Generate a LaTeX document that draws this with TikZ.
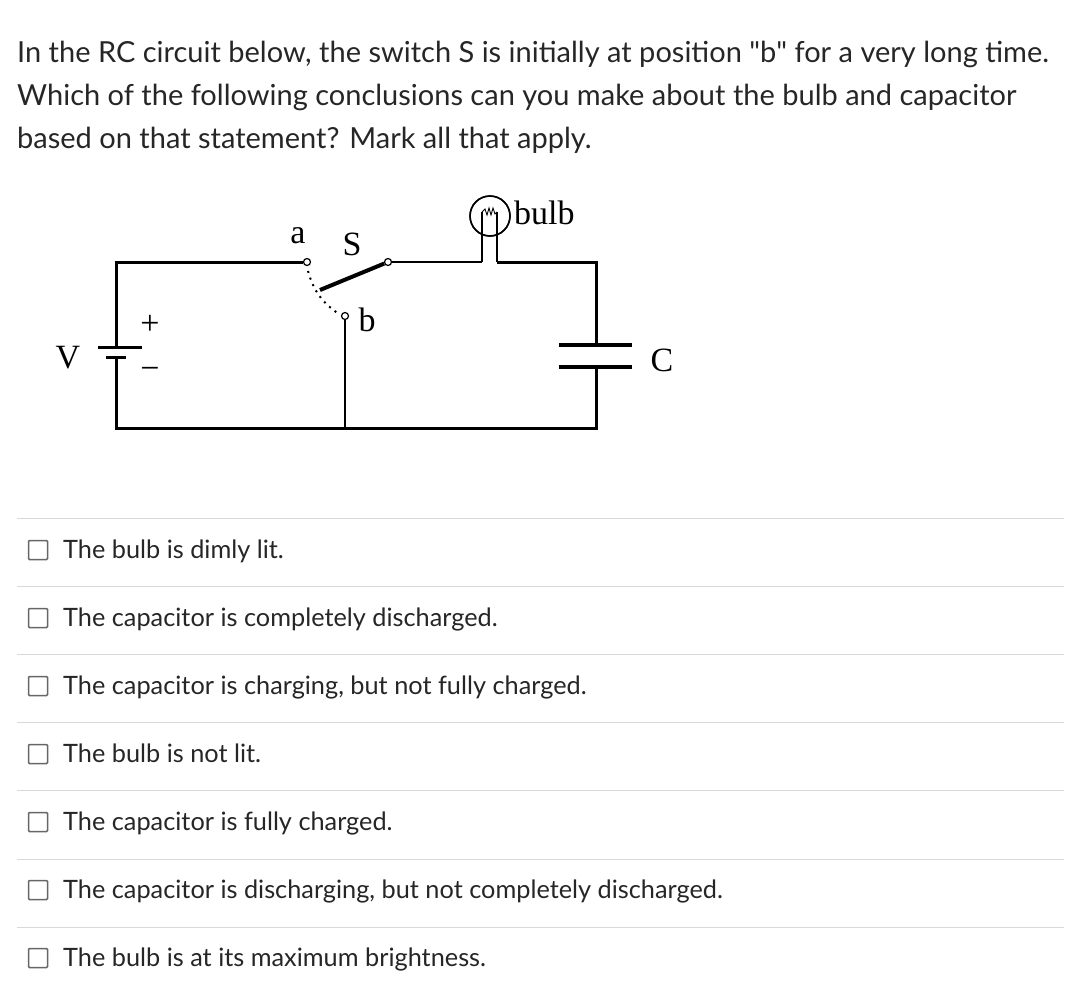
\documentclass[tikz,border=0pt]{standalone}
\usepackage{fontspec}
\setmainfont{Lato}
\newfontfamily\qf{Lato}
\newfontfamily\cfont{Liberation Serif}
\begin{document}
\begin{tikzpicture}[x=1pt,y=-1pt,
  wire/.style={line width=3pt},
  term/.style={circle,draw,fill=white,inner sep=0pt,minimum size=7pt,line width=1.2pt},
  ctext/.style={font=\cfont\fontsize{34}{36}\selectfont,inner sep=0pt},
  qtext/.style={anchor=base west,inner sep=0pt,font=\fontsize{29}{32}\selectfont,text=black!85},
  otext/.style={anchor=base west,inner sep=0pt,font=\fontsize{25.3}{28}\selectfont,text=black!85},
  cbox/.style={draw=black!60,line width=1.5pt,rounded corners=1pt,minimum size=19pt,inner sep=0pt},
  sep/.style={draw=black!15,line width=0.8pt}]
\useasboundingbox (0,0) rectangle (1082,996);
% question
\node[qtext] (q1) at (17,62) {In the RC circuit below, the switch S is initially at position {\qf\symbol{34}}b{\qf\symbol{34}} for a very long time.};
\node[qtext] (q2) at (17,105) {Which of the following conclusions can you make about the bulb and capacitor};
\node[qtext] (q3) at (17,148) {based on that statement? Mark all that apply.};
% circuit coordinates
\coordinate (tl) at (116,262);
\coordinate (bl) at (116,428);
\coordinate (br) at (596,428);
\coordinate (tr) at (596,262);
\coordinate (bb) at (345,428);
\node[term] (a) at (307,262) {};
\node[term] (p) at (388,262) {};
\node[term] (b) at (345,316) {};
\coordinate (bt1) at (116,347);
\coordinate (bt2) at (116,357);
\coordinate (c1) at (596,345);
\coordinate (c2) at (596,367);
\coordinate (l1) at (482,262);
\coordinate (l2) at (497,262);
% wires
\draw[wire] (bt1) -- (tl) -- (a);
\draw[wire] (bt2) -- (bl) -- (br) -- (c2);
\draw[wire] (c1) -- (tr) -- (l2);
\draw[line width=2pt] (p) -- (l1);
\draw[line width=2pt] (b) -- (bb);
% battery
\draw[line width=3pt] (98,347) -- (142,347);
\draw[line width=3pt] (106,357) -- (126,357);
% capacitor
\draw[line width=4pt] (559,345) -- (632,345);
\draw[line width=4pt] (559,367) -- (632,367);
% switch
\coordinate (sw) at (320,290);
\draw[line width=4pt] (sw) -- (p);
\draw[line width=2pt,dash pattern=on 2pt off 5pt] (308,271) to[bend right=20] (339,314);
% bulb
\node[circle,draw,line width=1.5pt,minimum size=40pt,inner sep=0pt,fill=white] (bulb) at (490,216) {};
\draw[line width=1.5pt] (l1) -- (482,236) -- (482,212) (l2) -- (497,236) -- (497,212);
\draw[line width=0.9pt] (482,212) -- (485,209) -- (487,215) -- (489,208) -- (491,215) -- (493,208) -- (495,214) -- (497,212);
\node[circle,draw,line width=1.5pt,minimum size=40pt,inner sep=0pt] (bulb2) at (490,216) {};
% labels
\node[ctext] (la) at (298,236) {a};
\node[ctext] (ls) at (352,244) {S};
\node[ctext] (lb) at (367,320) {b};
\node[ctext,anchor=west] (lbulb) at (514,213) {bulb};
\node[ctext] (lc) at (662,360) {C};
\node[ctext] (lv) at (68,358) {V};
\node[ctext] (lp) at (150,325) {+};
\node[ctext] (lm) at (150,373) {−};
% options
\foreach \yy in {518,586,654,722,790,859,927} \draw[sep] (17,\yy) -- (1064,\yy);
\foreach \yy/\t [count=\i] in {550/The bulb is dimly lit.,618/The capacitor is completely discharged.,686/{The capacitor is charging, but not fully charged.},754/The bulb is not lit.,822/The capacitor is fully charged.,890/{The capacitor is discharging, but not completely discharged.},958/The bulb is at its maximum brightness.}{
  \node[cbox] (box\i) at (38,\yy) {};
  \node[otext] (opt\i) at (63,\yy+8) {\t};
}
\end{tikzpicture}
\end{document}
